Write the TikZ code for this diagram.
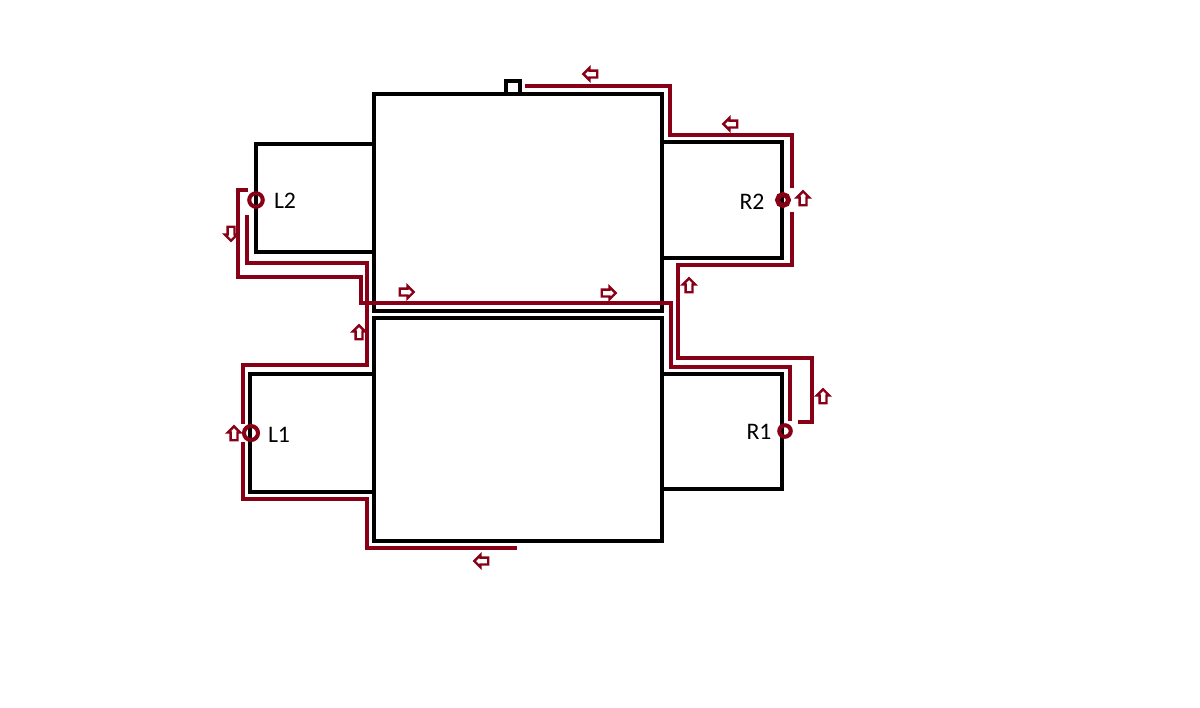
\documentclass[tikz,border=0pt]{standalone}
\usepackage{fontspec}
\setmainfont{Carlito}
\usepackage{tikz}
\usetikzlibrary{shapes.arrows}
\definecolor{wirered}{RGB}{136,0,21}
\tikzset{
    wall/.style={draw=black, line width=2.4pt},
    wire/.style={draw=wirered, line width=2.1pt},
    port/.style={circle, draw=wirered, line width=2.3pt, inner sep=0pt, minimum size=0.27cm},
    flow/.style={single arrow, draw=wirered, line width=1.4pt, inner sep=0.045cm, single arrow head extend=0.055cm, minimum height=0.28cm},
    tag/.style={font=\fontsize{13.5}{16}\selectfont, inner sep=0pt}
}

\begin{document}
\begin{tikzpicture}[x=0.02cm, y=-0.02cm]
    \useasboundingbox (0,0) rectangle (1200,707);

    % boxes
    \draw [wall] (256,144) rectangle (374,252);
    \draw [wall] (250,374) rectangle (374,492);
    \draw [wall] (662,142) rectangle (782,258);
    \draw [wall] (662,374) rectangle (782,489);
    \draw [wall] (374,94) rectangle (662,311);
    \draw [wall] (374,318) rectangle (662,541);
    \draw [wall, line width=1.9pt] (506,81) rectangle (520,94);

    % ports
    \node (l2) [port] at (256,200) {};
    \node (r2) [port, line width=2.8pt, minimum size=0.22cm] at (783,200) {};
    \node (l1) [port, minimum size=0.28cm] at (251,433) {};
    \node (r1) [port, minimum size=0.23cm] at (785,431) {};

    \node (l2tag) [tag] at (285,201) {L2};
    \node (r2tag) [tag] at (752,202) {R2};
    \node (l1tag) [tag] at (279,435) {L1};
    \node (r1tag) [tag] at (759,432) {R1};

    % wires
    \draw [wire] (525,86) -- (670,86) -- (670,135) -- (792,135) -- (792,188);
    \draw [wire] (792,212) -- (792,265) -- (678,265) -- (678,358) -- (812,358) -- (812,422) -- (798,422);
    \draw [wire] (790,421) -- (790,367) -- (671,367) -- (671,303) -- (361,303) -- (361,277) -- (238,277) -- (238,190) -- (248,190);
    \draw [wire] (247,215) -- (247,263) -- (367,263) -- (367,365) -- (243,365) -- (243,424);
    \draw [wire] (243,442) -- (243,499) -- (367,499) -- (367,548) -- (517,548);

    % flow arrows
    \node (f1)  [flow, shape border rotate=180] at (592,74) {};
    \node (f2)  [flow, shape border rotate=180] at (732,124) {};
    \node (f3)  [flow, shape border rotate=90]  at (803,200) {};
    \node (f4)  [flow, shape border rotate=90]  at (689,287) {};
    \node (f5)  [flow, shape border rotate=90]  at (823,398) {};
    \node (f6)  [flow, shape border rotate=270] at (231,232) {};
    \node (f7)  [flow]                          at (405,292) {};
    \node (f8)  [flow]                          at (607,293) {};
    \node (f9)  [flow, shape border rotate=90]  at (359,334) {};
    \node (f10) [flow, shape border rotate=90]  at (234,435) {};
    \node (f11) [flow, shape border rotate=180] at (483,561) {};

\end{tikzpicture}
\end{document}
